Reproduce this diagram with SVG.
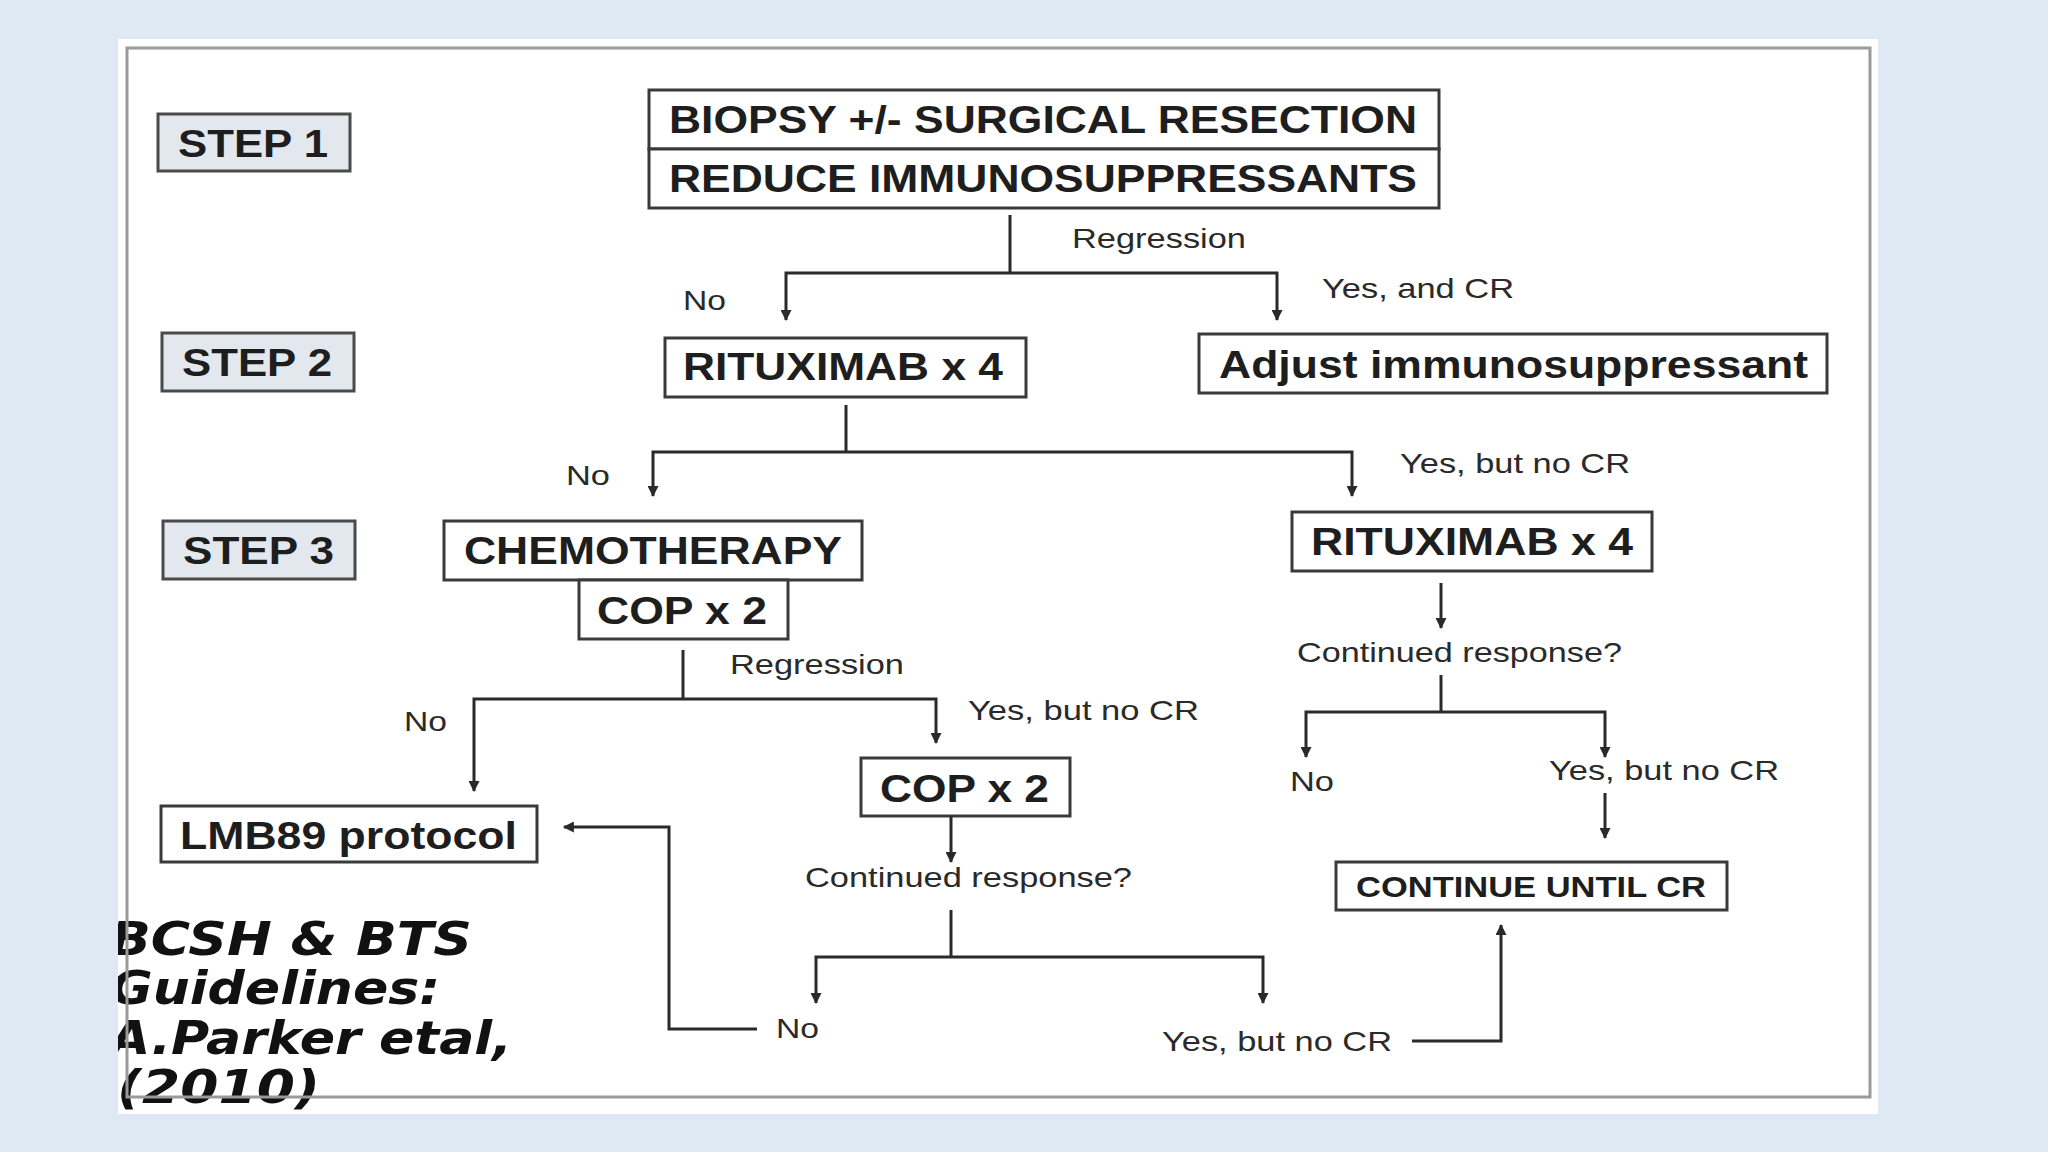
<svg xmlns="http://www.w3.org/2000/svg" width="2048" height="1152" viewBox="0 0 2048 1152">
<style>
.box{fill:#ffffff;stroke:#3a3a3a;stroke-width:3}
.step{fill:#e3e8ee;stroke:#4a4a4a;stroke-width:3}
.bt{font-family:"Liberation Sans",Arial,sans-serif;font-weight:bold;font-size:39px;fill:#1e1e1e}
.sm{font-size:30px}
.lb{font-family:"Liberation Sans",Arial,sans-serif;font-size:28px;fill:#2a2a2a}
.ln{stroke:#2a2a2a;stroke-width:3;fill:none}
.ar{marker-end:url(#arr)}
.cite{font-family:"DejaVu Sans",Verdana,sans-serif;font-weight:bold;font-style:italic;font-size:46px;fill:#111}
</style>
<defs>
<marker id="arr" viewBox="0 0 10 10" refX="9" refY="5" markerWidth="12" markerHeight="11" markerUnits="userSpaceOnUse" orient="auto">
<path d="M0,0 L10,5 L0,10 z" fill="#2a2a2a"/>
</marker>
<clipPath id="panelclip"><rect x="118" y="39" width="1760" height="1075"/></clipPath>
</defs>
<rect x="0" y="0" width="2048" height="1152" fill="#dfe9f4"/>
<rect x="118" y="39" width="1760" height="1075" fill="#ffffff"/>

<g id="citation" clip-path="url(#panelclip)">
<text class="cite" x="110" y="955" textLength="362" lengthAdjust="spacingAndGlyphs">BCSH &amp; BTS</text>
<text class="cite" x="110" y="1004" textLength="330" lengthAdjust="spacingAndGlyphs">Guidelines:</text>
<text class="cite" x="110" y="1054" textLength="402" lengthAdjust="spacingAndGlyphs">A.Parker etal,</text>
<text class="cite" x="117" y="1103" textLength="203" lengthAdjust="spacingAndGlyphs">(2010)</text>
</g>
<rect x="127" y="48" width="1743" height="1049" fill="none" stroke="#9a9a9a" stroke-width="3"/>

<g id="step1"><rect class="step" x="158" y="114" width="192" height="57"/><text class="bt" x="178" y="157" textLength="150" lengthAdjust="spacingAndGlyphs">STEP 1</text></g>
<g id="step2"><rect class="step" x="162" y="333" width="192" height="58"/><text class="bt" x="182" y="376" textLength="150" lengthAdjust="spacingAndGlyphs">STEP 2</text></g>
<g id="step3"><rect class="step" x="163" y="521" width="192" height="58"/><text class="bt" x="183" y="564" textLength="151" lengthAdjust="spacingAndGlyphs">STEP 3</text></g>

<g id="biopsy"><rect class="box" x="649" y="90" width="790" height="59"/><text class="bt" x="669" y="133" textLength="748" lengthAdjust="spacingAndGlyphs">BIOPSY +/- SURGICAL RESECTION</text></g>
<g id="reduce"><rect class="box" x="649" y="149" width="790" height="59"/><text class="bt" x="669" y="192" textLength="748" lengthAdjust="spacingAndGlyphs">REDUCE IMMUNOSUPPRESSANTS</text></g>
<g id="ritux1"><rect class="box" x="665" y="338" width="361" height="59"/><text class="bt" x="683" y="380" textLength="320" lengthAdjust="spacingAndGlyphs">RITUXIMAB x 4</text></g>
<g id="adjust"><rect class="box" x="1199" y="334" width="628" height="59"/><text class="bt" x="1219" y="378" textLength="589" lengthAdjust="spacingAndGlyphs">Adjust immunosuppressant</text></g>
<g id="chemo"><rect class="box" x="444" y="521" width="418" height="59"/><text class="bt" x="464" y="564" textLength="378" lengthAdjust="spacingAndGlyphs">CHEMOTHERAPY</text></g>
<g id="cop1"><rect class="box" x="579" y="580" width="209" height="59"/><text class="bt" x="597" y="624" textLength="170" lengthAdjust="spacingAndGlyphs">COP x 2</text></g>
<g id="ritux2"><rect class="box" x="1292" y="512" width="360" height="59"/><text class="bt" x="1311" y="555" textLength="322" lengthAdjust="spacingAndGlyphs">RITUXIMAB x 4</text></g>
<g id="lmb89"><rect class="box" x="161" y="806" width="376" height="56"/><text class="bt" x="180" y="849" textLength="337" lengthAdjust="spacingAndGlyphs">LMB89 protocol</text></g>
<g id="cop2"><rect class="box" x="861" y="758" width="209" height="58"/><text class="bt" x="880" y="802" textLength="169" lengthAdjust="spacingAndGlyphs">COP x 2</text></g>
<g id="continue"><rect class="box" x="1336" y="862" width="391" height="48"/><text class="bt sm" x="1356" y="897" textLength="350" lengthAdjust="spacingAndGlyphs">CONTINUE UNTIL CR</text></g>

<g id="connectors">
<path class="ln" d="M1010,215 V273"/>
<path class="ln ar" d="M1010,273 H786 V320"/>
<path class="ln ar" d="M1010,273 H1277 V320"/>
<path class="ln" d="M846,405 V452"/>
<path class="ln ar" d="M846,452 H653 V496"/>
<path class="ln ar" d="M846,452 H1352 V496"/>
<path class="ln" d="M683,650 V699"/>
<path class="ln ar" d="M683,699 H474 V791"/>
<path class="ln ar" d="M683,699 H936 V743"/>
<path class="ln ar" d="M951,816 V862"/>
<path class="ln" d="M951,910 V957"/>
<path class="ln ar" d="M951,957 H816 V1003"/>
<path class="ln ar" d="M951,957 H1263 V1003"/>
<path class="ln ar" d="M757,1029 H669 V827 H564"/>
<path class="ln ar" d="M1412,1041 H1501 V925"/>
<path class="ln ar" d="M1441,583 V628"/>
<path class="ln" d="M1441,675 V712"/>
<path class="ln ar" d="M1441,712 H1306 V757"/>
<path class="ln ar" d="M1441,712 H1605 V757"/>
<path class="ln ar" d="M1605,793 V838"/>
</g>

<g id="labels">
<text class="lb" x="1072" y="248" textLength="174" lengthAdjust="spacingAndGlyphs">Regression</text>
<text class="lb" x="683" y="310" textLength="43" lengthAdjust="spacingAndGlyphs">No</text>
<text class="lb" x="1322" y="298" textLength="192" lengthAdjust="spacingAndGlyphs">Yes, and CR</text>
<text class="lb" x="566" y="485" textLength="44" lengthAdjust="spacingAndGlyphs">No</text>
<text class="lb" x="1400" y="473" textLength="230" lengthAdjust="spacingAndGlyphs">Yes, but no CR</text>
<text class="lb" x="1297" y="662" textLength="325" lengthAdjust="spacingAndGlyphs">Continued response?</text>
<text class="lb" x="730" y="674" textLength="174" lengthAdjust="spacingAndGlyphs">Regression</text>
<text class="lb" x="404" y="731" textLength="43" lengthAdjust="spacingAndGlyphs">No</text>
<text class="lb" x="968" y="720" textLength="231" lengthAdjust="spacingAndGlyphs">Yes, but no CR</text>
<text class="lb" x="1290" y="791" textLength="44" lengthAdjust="spacingAndGlyphs">No</text>
<text class="lb" x="1549" y="780" textLength="230" lengthAdjust="spacingAndGlyphs">Yes, but no CR</text>
<text class="lb" x="805" y="887" textLength="327" lengthAdjust="spacingAndGlyphs">Continued response?</text>
<text class="lb" x="776" y="1038" textLength="43" lengthAdjust="spacingAndGlyphs">No</text>
<text class="lb" x="1162" y="1051" textLength="230" lengthAdjust="spacingAndGlyphs">Yes, but no CR</text>
</g>
</svg>
